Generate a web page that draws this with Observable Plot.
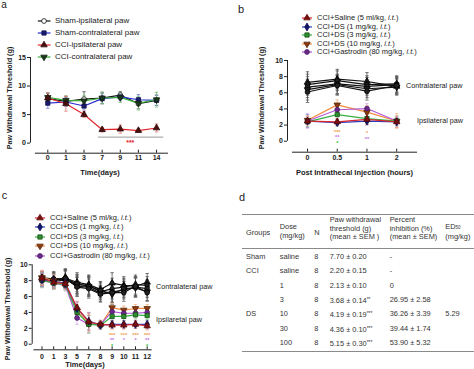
<!DOCTYPE html>
<html><head><meta charset="utf-8">
<script src="https://cdn.jsdelivr.net/npm/d3@7"></script>
<script src="https://cdn.jsdelivr.net/npm/@observablehq/plot@0.6"></script>
<style>
body{margin:0;background:#fff;}
#fig{position:relative;width:474px;height:369px;overflow:hidden;font-family:"Liberation Sans",Arial,Helvetica,sans-serif;color:#222;background:#fff;}
.abs{position:absolute;white-space:nowrap;}
</style></head>
<body><div id="fig"></div>
<script>
// ---------------- DATA ----------------
// Panel a
const daysA = ["0","1","3","7","9","11","14"];
const namesA = ["Sham-ipsilateral paw","Sham-contralateral paw","CCI-ipsilateral paw","CCI-contralateral paw"];
const shamIpsiA = [7.8, 7.3, 7.7, 7.9, 8.4, 6.9, 7.5];
const shamIpsiErrA = [0.9, 0.8, 1.3, 1.0, 0.6, 0.9, 0.9];
const shamContraA = [7.0, 7.2, 6.5, 7.8, 8.1, 7.6, 7.5];
const shamContraErrA = [0.9, 0.7, 0.7, 0.9, 0.7, 0.9, 0.9];
const cciIpsiA = [7.9, 6.9, 5.0, 2.35, 2.45, 2.2, 2.65];
const cciIpsiErrA = [0.9, 1.3, 0.5, 0.4, 0.7, 0.3, 0.7];
const cciContraA = [8.0, 7.5, 7.4, 7.9, 8.0, 7.0, 7.6];
const cciContraErrA = [0.8, 0.8, 0.9, 1.0, 0.9, 1.2, 1.3];
const sigLineA = [2.8, 6.4, 1.05];          // from index, to index, level (g)
const starsA = [{x: 4.55, y: 0.3, t: "***", c: "red"}];

// Panels b & c groups
const groupNames = ["CCI+Saline (5 ml/kg, <i>i.t.</i>)","CCI+DS (1 mg/kg, <i>i.t.</i>)","CCI+DS (3 mg/kg, <i>i.t.</i>)","CCI+DS (10 mg/kg, <i>i.t.</i>)","CCI+Gastrodin (80 mg/kg, <i>i.t.</i>)"];

// Panel b
const hoursB = ["0","0.5","1","2"];
const salIpsiB = [2.5, 2.4, 2.7, 2.4];
const ds1IpsiB = [2.5, 2.3, 2.5, 2.4];
const ds3IpsiB = [2.4, 3.3, 2.8, 2.5];
const ds10IpsiB = [2.6, 4.5, 3.6, 2.5];
const gasIpsiB = [2.5, 3.9, 4.05, 2.5];
const salIpsiErrB = [0.6, 0.4, 0.6, 0.7];
const ds1IpsiErrB = [0.8, 0.4, 0.5, 0.5];
const ds3IpsiErrB = [0.6, 0.6, 0.5, 0.6];
const ds10IpsiErrB = [0.5, 0.6, 0.8, 0.9];
const gasIpsiErrB = [0.9, 0.8, 0.6, 0.5];
const salContraB = [7.3, 7.7, 7.4, 6.8];
const ds1ContraB = [7.0, 7.5, 7.0, 7.1];
const ds3ContraB = [6.7, 7.1, 6.8, 7.0];
const ds10ContraB = [6.4, 7.0, 6.5, 6.7];
const gasContraB = [6.1, 6.9, 6.2, 6.9];
const contraErrB = [1.3, 1.2, 1.1, 1.0];
const starsB = [
  {x: 1, y: 1.3, t: "***", c: "orange"}, {x: 1, y: 0.65, t: "**", c: "purple"}, {x: 1, y: 0.0, t: "*", c: "green"},
  {x: 2, y: 1.2, t: "*", c: "orange"}, {x: 2, y: 0.5, t: "**", c: "purple"}
];

// Panel c
const daysC = ["0","1","3","5","7","8","9","10","11","12"];
const salIpsiC = [8.3, 7.8, 7.6, 4.6, 2.8, 2.5, 2.4, 2.4, 2.5, 2.3];
const ds1IpsiC = [8.2, 7.9, 7.7, 4.5, 2.9, 2.4, 2.5, 2.5, 2.5, 2.5];
const ds3IpsiC = [8.1, 7.7, 7.5, 4.0, 2.5, 2.4, 3.5, 3.5, 3.7, 3.6];
const ds10IpsiC = [8.4, 8.0, 7.6, 4.2, 2.6, 2.4, 4.6, 4.3, 4.5, 4.5];
const gasIpsiC = [8.0, 7.7, 7.4, 3.3, 2.5, 2.5, 4.1, 3.9, 3.9, 4.0];
const ipsiErrC = [0.9, 0.8, 0.7, 0.8, 1.1, 0.5, 0.5, 0.5, 0.5, 0.5];
const salContraC = [8.4, 8.2, 8.3, 7.8, 7.5, 6.9, 7.7, 7.4, 7.3, 7.8];
const ds1ContraC = [8.2, 8.0, 8.4, 7.5, 7.4, 6.6, 7.0, 7.2, 7.5, 7.4];
const ds3ContraC = [8.1, 8.1, 8.2, 7.3, 7.2, 6.4, 6.6, 6.8, 7.2, 7.0];
const ds10ContraC = [8.3, 7.9, 8.1, 7.6, 7.3, 6.8, 6.3, 7.0, 7.1, 6.6];
const gasContraC = [8.0, 8.2, 8.3, 7.2, 7.0, 6.3, 6.5, 6.5, 7.3, 6.5];
const contraErrC = [0.8, 0.9, 1.1, 1.2, 1.2, 1.0, 1.3, 1.1, 1.2, 1.1];
const starsC = [
  {x: 6, y: 1.3, t: "***", c: "orange"}, {x: 7, y: 1.3, t: "***", c: "orange"}, {x: 8, y: 1.3, t: "***", c: "orange"}, {x: 9, y: 1.3, t: "***", c: "orange"},
  {x: 6, y: 0.65, t: "**", c: "purple"}, {x: 7, y: 0.65, t: "*", c: "purple"}, {x: 8, y: 0.65, t: "*", c: "purple"}, {x: 9, y: 0.65, t: "**", c: "purple"},
  {x: 6, y: 0.0, t: "*", c: "green"}, {x: 9, y: 0.0, t: "*", c: "green"}
];

// Panel d table
const tblGroups = ["Sham","CCI","","","DS","",""];
const tblDose = ["saline","saline","1","3","10","30","100"];
const tblN = ["8","8","8","8","8","8","8"];
const tblPwt = ["7.70 ± 0.20","2.20 ± 0.15","2.13 ± 0.10","3.68 ± 0.14","4.19 ± 0.19","4.36 ± 0.10","5.15 ± 0.30"];
const tblPwtSig = ["","","","**","***","***","***"];
const tblPct = ["-","-","0","26.95 ± 2.58","36.26 ± 3.39","39.44 ± 1.74","53.90 ± 5.32"];
const tblEd = ["","","","","5.29","",""];

// ---------------- STYLE ----------------
const FONT = '"Liberation Sans", Arial, Helvetica, sans-serif';
const starColor = {red: "#e3262b", orange: "#f39a4e", purple: "#c46ee6", green: "#2fbf3a"};
const triDown = {draw(ctx, size) { const s = Math.sqrt(size * 4 / Math.sqrt(3)); const h = s * Math.sqrt(3) / 2; ctx.moveTo(0, 2*h/3); ctx.lineTo(-s/2, -h/3); ctx.lineTo(s/2, -h/3); ctx.closePath(); }};
const hbar = {draw(ctx, size) { const r = Math.sqrt(size / Math.PI); ctx.moveTo(-r, 0); ctx.lineTo(r, 0); }};
const grpStyle = [
  {line: "#d9262c", fill: "#7a0f0f", stroke: "#5a0a0a", err: "#e98a8a", symbol: d3.symbolTriangle},
  {line: "#2b3fc4", fill: "#14146e", stroke: "#0d0d4a", err: "#8a8fc8", symbol: d3.symbolDiamond},
  {line: "#33b044", fill: "#2f8f2f", stroke: "#154f15", err: "#8fcf8f", symbol: d3.symbolSquare},
  {line: "#f28b3a", fill: "#8a3a10", stroke: "#5a2408", err: "#f2b788", symbol: triDown},
  {line: "#b25ad6", fill: "#6b2a8a", stroke: "#4a1a60", err: "#d6a6ea", symbol: d3.symbolCircle}
];
const aStyle = [
  {line: "#111", fill: "#fff", stroke: "#111", err: "#555", symbol: d3.symbolCircle},
  {line: "#2a2ad0", fill: "#1a1a70", stroke: "#10104a", err: "#7a7ad8", symbol: d3.symbolSquare},
  {line: "#e3262b", fill: "#4a1010", stroke: "#300808", err: "#d87070", symbol: d3.symbolTriangle},
  {line: "#3aae3a", fill: "#1c3a1c", stroke: "#102010", err: "#7ac07a", symbol: triDown}
];
const contraStyle = grpStyle.map(s => ({line: "#111", fill: "#222", stroke: "#000", err: "#555", symbol: s.symbol}));

const fig = document.getElementById("fig");

function txt(html, x, y, o = {}) {
  const size = o.size || 7.5;
  const d = document.createElement("div");
  d.className = "abs";
  d.innerHTML = html;
  const tx = o.anchor === "middle" ? "-50%" : o.anchor === "end" ? "-100%" : "0";
  d.style.left = x + "px"; d.style.top = y + "px";
  d.style.fontSize = size + "px"; d.style.lineHeight = (o.lh || size) + "px";
  d.style.fontWeight = o.weight || "normal";
  d.style.color = o.color || "#1a1a1a";
  d.style.transform = `translate(${o.rotate ? "-50%" : tx},-50%)` + (o.rotate ? ` rotate(${o.rotate}deg)` : "");
  fig.appendChild(d);
  return d;
}

function makePanel(cfg) {
  const {w, h, mt, mb, ml, mr, xdom, ydom, yticks, xlabels, xStart, padX, series, stars, extra} = cfg;
  const pxPerUnit = (h - mt - mb) / (ydom[1] - ydom[0]);
  const idx = xlabels.map((_, i) => i);
  const marks = [
    Plot.ruleX([xdom[0]], {y1: yticks[0], y2: yticks[yticks.length - 1], stroke: "#222", strokeWidth: 1}),
    Plot.ruleY([ydom[0]], {x1: xStart, x2: xdom[1], stroke: "#222", strokeWidth: 1}),
    Plot.ruleX(idx, {x: d => d, y1: ydom[0], y2: ydom[0] + 3 / pxPerUnit, stroke: "#222", strokeWidth: 1}),
    Plot.axisY({ticks: yticks, tickSize: 3, tickPadding: 1.5, fontWeight: "bold", fontSize: 7, label: null, tickFormat: d => String(d)}),
    Plot.axisX({ticks: idx, tickFormat: i => xlabels[i], tickSize: 0, tickPadding: padX, fontWeight: "bold", fontSize: 7, label: null})
  ];
  if (extra) marks.push(...extra);
  const rowsOf = s => s.v.map((v, i) => ({i, v, e: s.e[i]}));
  for (const s of series) {
    const rows = rowsOf(s);
    marks.push(
      Plot.ruleX(rows, {x: "i", y1: d => d.v - d.e, y2: d => d.v + d.e, stroke: s.st.err, strokeWidth: 0.8}),
      Plot.dot(rows, {x: "i", y: d => d.v + d.e, symbol: hbar, r: 1.7, stroke: s.st.err, fill: "none", strokeWidth: 0.8}),
      Plot.dot(rows, {x: "i", y: d => d.v - d.e, symbol: hbar, r: 1.7, stroke: s.st.err, fill: "none", strokeWidth: 0.8})
    );
  }
  for (const s of series) marks.push(Plot.line(rowsOf(s), {x: "i", y: "v", stroke: s.st.line, strokeWidth: 1.2}));
  for (const s of series) marks.push(Plot.dot(rowsOf(s), {x: "i", y: "v", symbol: s.st.symbol, r: 2.4, fill: s.st.fill, stroke: s.st.stroke, strokeWidth: 0.8}));
  for (const c of Object.keys(starColor)) {
    const rows = (stars || []).filter(d => d.c === c);
    if (rows.length) marks.push(Plot.text(rows, {x: "x", y: "y", text: "t", fill: starColor[c], fontSize: c === "red" ? 7 : 5.5, fontWeight: "bold", dy: 1.6}));
  }
  const svg = Plot.plot({
    width: w, height: h, marginTop: mt, marginBottom: mb, marginLeft: ml, marginRight: mr,
    x: {type: "linear", domain: xdom}, y: {type: "linear", domain: ydom},
    style: {fontFamily: FONT, color: "#222", background: "transparent", overflow: "visible"},
    marks
  });
  const wrap = document.createElement("div");
  wrap.className = "abs";
  wrap.style.left = cfg.left + "px"; wrap.style.top = cfg.top + "px";
  wrap.appendChild(svg);
  fig.appendChild(wrap);
}

function legend(items, cx, lx0, lx1, tx, y0, dy, size) {
  items.forEach((it, k) => {
    const y = y0 + dy * k;
    const s = document.createElementNS("http://www.w3.org/2000/svg", "svg");
    s.setAttribute("width", 20); s.setAttribute("height", 12);
    s.style.position = "absolute"; s.style.left = (cx - 10) + "px"; s.style.top = (y - 6) + "px"; s.style.overflow = "visible";
    const ln = document.createElementNS("http://www.w3.org/2000/svg", "line");
    ln.setAttribute("x1", lx0 - cx + 10); ln.setAttribute("x2", lx1 - cx + 10); ln.setAttribute("y1", 6); ln.setAttribute("y2", 6);
    ln.setAttribute("stroke", it.st.line); ln.setAttribute("stroke-width", 1.2);
    s.appendChild(ln);
    const p = document.createElementNS("http://www.w3.org/2000/svg", "path");
    p.setAttribute("d", d3.symbol(it.st.symbol, Math.PI * 2.4 * 2.4)());
    p.setAttribute("transform", "translate(10,6)");
    p.setAttribute("fill", it.st.fill); p.setAttribute("stroke", it.st.stroke); p.setAttribute("stroke-width", 0.8);
    s.appendChild(p);
    fig.appendChild(s);
    txt(it.label, tx, y, {size});
  });
}

// ---------------- PANEL A ----------------
makePanel({
  left: 0, top: 0, w: 237, h: 185, mt: 57, mb: 32.3, ml: 30, mr: 69,
  xdom: [-0.955, 6.66], ydom: [-1.77, 15], yticks: [0, 5, 10, 15], xlabels: daysA, xStart: -0.68, padX: 2,
  series: [
    {v: shamIpsiA, e: shamIpsiErrA, st: aStyle[0]},
    {v: shamContraA, e: shamContraErrA, st: aStyle[1]},
    {v: cciContraA, e: cciContraErrA, st: aStyle[3]},
    {v: cciIpsiA, e: cciIpsiErrA, st: aStyle[2]}
  ],
  extra: [Plot.ruleY([sigLineA[2]], {x1: sigLineA[0], x2: sigLineA[1], stroke: "#999", strokeWidth: 1})],
  stars: starsA
});
legend(namesA.map((n, k) => ({label: n, st: aStyle[k]})), 43.5, 37.3, 50, 55, 20.7, 12.2, 8);
txt("Time(days)", 100, 172.7, {anchor: "middle", weight: "bold", size: 7.5});
txt("Paw Withdrawal Threshold (g)", 10, 98, {rotate: -90, weight: "bold", size: 7.2});
txt("a", 4, 5, {anchor: "middle", size: 10});

// ---------------- PANEL B ----------------
makePanel({
  left: 237, top: 0, w: 237, h: 185, mt: 60, mb: 33.3, ml: 50, mr: 57,
  xdom: [-0.673, 3.70], ydom: [-1.36, 10], yticks: [0, 2, 4, 6, 8, 10], xlabels: hoursB, xStart: -0.505, padX: 2.5,
  series: [
    {v: salContraB, e: contraErrB, st: contraStyle[0]},
    {v: ds1ContraB, e: contraErrB, st: contraStyle[1]},
    {v: ds3ContraB, e: contraErrB, st: contraStyle[2]},
    {v: ds10ContraB, e: contraErrB, st: contraStyle[3]},
    {v: gasContraB, e: contraErrB, st: contraStyle[4]},
    {v: ds10IpsiB, e: ds10IpsiErrB, st: grpStyle[3]},
    {v: gasIpsiB, e: gasIpsiErrB, st: grpStyle[4]},
    {v: ds3IpsiB, e: ds3IpsiErrB, st: grpStyle[2]},
    {v: ds1IpsiB, e: ds1IpsiErrB, st: grpStyle[1]},
    {v: salIpsiB, e: salIpsiErrB, st: grpStyle[0]}
  ],
  stars: starsB
});
legend(groupNames.map((n, k) => ({label: n, st: grpStyle[k]})), 307, 302, 312, 317, 18, 8.6, 7.5);
txt("Post Intrathecal Injection (hours)", 354.5, 173, {anchor: "middle", weight: "bold", size: 7.5});
txt("Paw Withdrawal Threshold (g)", 262, 98, {rotate: -90, weight: "bold", size: 7.2});
txt("Contralateral paw", 406, 86, {size: 7.2});
txt("Ipsilateral paw", 417, 121, {size: 7.2});
txt("b", 241, 9, {anchor: "middle", size: 11});

// ---------------- PANEL C ----------------
makePanel({
  left: 0, top: 185, w: 237, h: 184, mt: 79.3, mb: 19.7, ml: 31.7, mr: 85.3,
  xdom: [-0.838, 9.43], ydom: [-0.705, 10], yticks: [0, 2, 4, 6, 8, 10], xlabels: daysC, xStart: -0.69, padX: 4,
  series: [
    {v: salContraC, e: contraErrC, st: contraStyle[0]},
    {v: ds1ContraC, e: contraErrC, st: contraStyle[1]},
    {v: ds3ContraC, e: contraErrC, st: contraStyle[2]},
    {v: ds10ContraC, e: contraErrC, st: contraStyle[3]},
    {v: gasContraC, e: contraErrC, st: contraStyle[4]},
    {v: ds10IpsiC, e: ipsiErrC, st: grpStyle[3]},
    {v: gasIpsiC, e: ipsiErrC, st: grpStyle[4]},
    {v: ds3IpsiC, e: ipsiErrC, st: grpStyle[2]},
    {v: ds1IpsiC, e: ipsiErrC, st: grpStyle[1]},
    {v: salIpsiC, e: ipsiErrC, st: grpStyle[0]}
  ],
  stars: starsC
});
legend(groupNames.map((n, k) => ({label: n, st: grpStyle[k]})), 40, 35, 45, 50, 218, 9.4, 7.5);
txt("Time(days)", 85, 365, {anchor: "middle", weight: "bold", size: 7.5});
txt("Paw Withdrawal Threshold (g)", 8, 309, {rotate: -90, weight: "bold", size: 7.2});
txt("Contralateral paw", 156, 287, {size: 7.2});
txt("Ipsilaretal paw", 156, 320, {size: 7.2});
txt("c", 4.5, 195, {anchor: "middle", size: 11});

// ---------------- PANEL D (table) ----------------
txt("d", 242, 197, {anchor: "middle", size: 11});
function hrule(y) {
  const r = document.createElement("div");
  r.className = "abs";
  r.style.cssText = `left:242px;top:${y}px;width:232px;height:1px;background:#8a8a8a;`;
  fig.appendChild(r);
}
hrule(213.5); hrule(247.5); hrule(350.5);
const TC = "#333", TS = 7.4;
const colX = [246, 279.7, 314.3, 329.7, 389.7, 445.3];
txt("Groups", colX[0], 233, {size: TS, color: TC});
txt("Dose<br>(mg/kg)", colX[1], 231.2, {size: TS, lh: 9, color: TC});
txt("N", colX[2], 233, {size: TS, color: TC});
txt("Paw withdrawal<br>threshold (g)<br>(mean ± SEM )", colX[3], 229.3, {size: TS, lh: 8.4, color: TC});
txt("Percent<br>inhibition (%)<br>(mean ± SEM)", colX[4], 229.3, {size: TS, lh: 8.4, color: TC});
txt("ED<span style=\"font-size:4.5px\">50</span><br>(mg/kg)", colX[5], 231.2, {size: TS, lh: 9, color: TC});
tblDose.forEach((dose, i) => {
  const y = 256.7 + 14.4 * i;
  if (tblGroups[i]) txt(tblGroups[i], colX[0], y, {size: TS, color: TC});
  txt(dose, colX[1], y, {size: TS, color: TC});
  txt(tblN[i], colX[2], y, {size: TS, color: TC});
  txt(tblPwt[i] + (tblPwtSig[i] ? `<span style="font-size:5px;vertical-align:2.5px">${tblPwtSig[i]}</span>` : ""), colX[3], y, {size: TS, color: TC});
  txt(tblPct[i], colX[4], y, {size: TS, color: TC});
  if (tblEd[i]) txt(tblEd[i], colX[5], y, {size: TS, color: TC});
});
</script>
</body></html>
